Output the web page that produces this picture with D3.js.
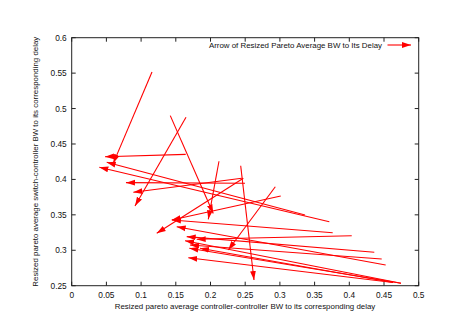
<!DOCTYPE html>
<html><head><meta charset="utf-8">
<script src="https://cdn.jsdelivr.net/npm/d3@7/dist/d3.min.js"></script>
<style>body{margin:0;background:#fff} text{font-family:"Liberation Sans",Arial,Helvetica,sans-serif;fill:#111}</style>
</head><body><svg id="c" width="474" height="334"></svg>
<script>
// arrow tails (start) and heads (end)
const xStart = [0.1157,0.1643,0.1647,0.1420,0.2122,0.2435,0.2473,0.2450,0.2497,0.2934,0.3012,0.3362,0.3712,0.3761,0.4524,0.4360,0.4035,0.4745,0.4467,0.4630,0.4745,0.4630];
const yStart = [0.5516,0.4354,0.4877,0.4900,0.4256,0.4193,0.4016,0.4016,0.3945,0.3897,0.3766,0.3498,0.3403,0.3248,0.2792,0.2971,0.3206,0.2534,0.2877,0.2545,0.2534,0.2545];
const xEnd   = [0.0600,0.0480,0.0912,0.2040,0.1968,0.2627,0.1225,0.0888,0.0782,0.2256,0.1441,0.0504,0.0398,0.1445,0.1513,0.1657,0.1801,0.1633,0.1705,0.1849,0.1695,0.1680];
const yEnd   = [0.4230,0.4320,0.3625,0.3520,0.3437,0.2580,0.3239,0.3818,0.3954,0.3004,0.3427,0.4241,0.4171,0.3427,0.3333,0.3192,0.3155,0.3135,0.3074,0.3028,0.3028,0.2895];
const xTicks = [0,0.05,0.1,0.15,0.2,0.25,0.3,0.35,0.4,0.45,0.5];
const yTicks = [0.25,0.3,0.35,0.4,0.45,0.5,0.55,0.6];
const legendLabel = "Arrow of Resized Pareto Average BW to Its Delay";
const xTitle = "Resized pareto average controller-controller BW to its corresponding delay";
const yTitle = "Resized pareto average switch-controller BW to its corresponding delay";

const L=71.7,R=418.7,T=37.7,B=285.7;
const svg=d3.select("#c");
const x=d3.scaleLinear().domain([0,0.5]).range([L,R]);
const y=d3.scaleLinear().domain([0.25,0.6]).range([B,T]);
const red="#f00";

svg.append("defs").append("marker").attr("id","ah")
  .attr("markerUnits","userSpaceOnUse").attr("viewBox","0 0 10 10")
  .attr("refX",10).attr("refY",5).attr("markerWidth",9).attr("markerHeight",9)
  .attr("orient","auto")
  .append("path").attr("d","M0,1.8 L10,5 L0,8.2 Z").attr("fill",red);

const fmt=d=>String(d);
const tl=4;
const ax=svg.append("g").attr("stroke","#222").attr("stroke-width",1);
ax.append("rect").attr("x",L).attr("y",T).attr("width",R-L).attr("height",B-T).attr("fill","none");
xTicks.forEach(t=>{
  ax.append("line").attr("x1",x(t)).attr("x2",x(t)).attr("y1",B).attr("y2",B-tl);
  ax.append("line").attr("x1",x(t)).attr("x2",x(t)).attr("y1",T).attr("y2",T+tl);
});
yTicks.forEach(t=>{
  ax.append("line").attr("x1",L).attr("x2",L+tl).attr("y1",y(t)).attr("y2",y(t));
  ax.append("line").attr("x1",R).attr("x2",R-tl).attr("y1",y(t)).attr("y2",y(t));
});
const fs=8.3, ft=7.9;
svg.append("g").selectAll("text").data(xTicks).join("text")
  .attr("x",d=>x(d)).attr("y",B+12).attr("text-anchor","middle").attr("font-size",fs).text(fmt);
svg.append("g").selectAll("text").data(yTicks).join("text")
  .attr("x",L-5).attr("y",d=>y(d)+3).attr("text-anchor","end").attr("font-size",fs).text(fmt);

svg.append("text").attr("x",245).attr("y",B+23.5).attr("text-anchor","middle").attr("font-size",ft).text(xTitle);
svg.append("text").attr("transform",`translate(38,${(T+B)/2}) rotate(-90)`).attr("text-anchor","middle").attr("font-size",ft).text(yTitle);

// legend
svg.append("text").attr("x",382).attr("y",48).attr("text-anchor","end").attr("font-size",ft).text(legendLabel);
svg.append("line").attr("x1",387.5).attr("x2",411).attr("y1",45).attr("y2",45)
  .attr("stroke",red).attr("stroke-width",1.1).attr("marker-end","url(#ah)");

// arrows
svg.append("g").selectAll("line").data(d3.range(xStart.length)).join("line")
  .attr("x1",i=>x(xStart[i])).attr("y1",i=>y(yStart[i]))
  .attr("x2",i=>x(xEnd[i])).attr("y2",i=>y(yEnd[i]))
  .attr("stroke",red).attr("stroke-width",1.1).attr("marker-end","url(#ah)");
</script></body></html>
